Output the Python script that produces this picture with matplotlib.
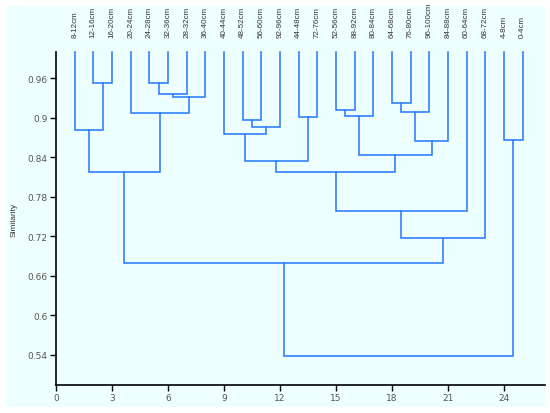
import matplotlib
matplotlib.use("Agg")
import matplotlib.pyplot as plt

# leaf order as shown along the top of the dendrogram
leaf_labels = ["8-12cm", "12-16cm", "16-20cm", "20-24cm", "24-28cm", "32-36cm",
               "28-32cm", "36-40cm", "40-44cm", "48-52cm", "56-60cm", "92-96cm",
               "44-48cm", "72-76cm", "52-56cm", "88-92cm", "80-84cm", "64-68cm",
               "76-80cm", "96-100cm", "84-88cm", "60-64cm", "68-72cm", "4-8cm",
               "0-4cm"]

# merges: nodes 0..24 are leaves, node 25+k is the k-th merge below
merge_left = [1, 0, 4, 27, 28, 3, 26, 9, 32, 8, 12, 34, 14, 37, 17, 39, 40, 38, 36, 43, 44, 31, 23, 46]
merge_right = [2, 25, 5, 6, 7, 29, 30, 10, 11, 33, 13, 35, 15, 16, 18, 19, 20, 41, 42, 21, 22, 45, 24, 47]
merge_sim = [0.953, 0.881, 0.953, 0.936, 0.932, 0.907, 0.817, 0.896, 0.886, 0.876,
             0.901, 0.834, 0.9125, 0.902, 0.922, 0.909, 0.865, 0.844, 0.817, 0.758,
             0.718, 0.679, 0.867, 0.538]

line_col = "#2a7bff"
tick_col = "#555555"

fig = plt.figure(figsize=(5.5, 4.14), dpi=100)
fig.patch.set_facecolor("white")

# light cyan panel behind everything
bg = fig.add_axes([6 / 550, 6 / 414, 539 / 550, 401 / 414], zorder=-5)
bg.set_facecolor("#EEFFFF")
bg.set_xticks([])
bg.set_yticks([])
for s in bg.spines.values():
    s.set_visible(False)

ax = fig.add_axes([56 / 550, 28 / 414, 489 / 550, 333 / 414], zorder=1)
ax.set_facecolor("none")

# node positions
n = len(leaf_labels)
xs = [i + 1 for i in range(n)]
ys = [1.0] * n
for a, b, h in zip(merge_left, merge_right, merge_sim):
    ax.plot([xs[a], xs[a], xs[b], xs[b]], [ys[a], h, h, ys[b]],
            color=line_col, lw=1.15, solid_joinstyle="miter", clip_on=False)
    xs.append((xs[a] + xs[b]) / 2)
    ys.append(h)

for i, lab in enumerate(leaf_labels):
    ax.annotate(lab, xy=(i + 1, 1), xycoords=("data", "axes fraction"),
                xytext=(0, 10.5), textcoords="offset points", rotation=90,
                ha="center", va="bottom", fontsize=5.8, color="#333333",
                family="Liberation Sans")

ax.set_xlim(0, 26.2)
ax.set_ylim(0.494, 1.0)
ax.set_xticks(range(0, 25, 3))
yt = [0.54, 0.6, 0.66, 0.72, 0.78, 0.84, 0.9, 0.96]
ax.set_yticks(yt)
ax.set_yticklabels([f"{v:g}" for v in yt])
ax.tick_params(labelsize=6.5, labelcolor=tick_col, length=4, width=1, pad=2)
for s in ["top", "right"]:
    ax.spines[s].set_visible(False)
for s in ["left", "bottom"]:
    ax.spines[s].set_linewidth(1.2)
ax.set_ylabel("Similarity", fontsize=6, color="#333333", family="Liberation Sans")
ax.yaxis.set_label_coords(-38 / 489, 0.5)

fig.savefig("out.png", dpi=100, facecolor=fig.get_facecolor())
